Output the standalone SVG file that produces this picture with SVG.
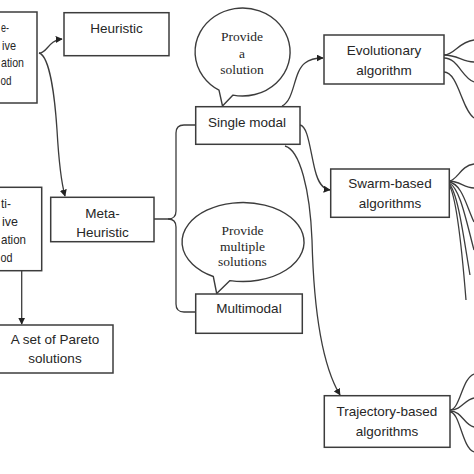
<svg xmlns="http://www.w3.org/2000/svg" width="474" height="474" viewBox="0 0 474 474">
<style>
.box{fill:#fff;stroke:#3c3c3c;stroke-width:1.5}
.t{font-family:"Liberation Sans",Arial,sans-serif;font-size:13.5px;fill:#262626;text-anchor:middle}
.f{font-family:"Liberation Sans",Arial,sans-serif;font-size:13.5px;fill:#262626;text-anchor:start}
.s{font-family:"Liberation Serif","Times New Roman",serif;font-size:13.5px;fill:#262626;text-anchor:middle}
.c{fill:none;stroke:#3c3c3c;stroke-width:1.3}
.bub{fill:#fff;stroke:#3c3c3c;stroke-width:1.4;stroke-linejoin:round}
</style>
<defs>
<marker id="ah" viewBox="0 0 10 10" refX="9" refY="5" markerWidth="7" markerHeight="7" orient="auto" markerUnits="userSpaceOnUse">
<path d="M0,0 L10,5 L0,10 Z" fill="#222"/>
</marker>
</defs>
<rect width="474" height="474" fill="#fff"/>
<g id="connectors">
<path class="c" d="M39,53 C47,54 48,40 62,39" marker-end="url(#ah)"/>
<path class="c" d="M39,53 C50,56 55,100 57,130 C59,165 62,185 65,196" marker-end="url(#ah)"/>
<path class="c" d="M21.7,271 L21.7,324" marker-end="url(#ah)"/>
<path class="c" d="M154,219 L168,219 Q176,219 176,211 L176,133 Q176,125 184,125 L196,125"/>
<path class="c" d="M168,219 Q176,219 176,227 L176,304 Q176,312 184,312 L196,312"/>
<path class="c" d="M282,106 C295,100 293,72 305,63 C311,58 318,58 323,58" marker-end="url(#ah)"/>
<path class="c" d="M300,125 C308,126 310,150 315,170 C318,182 322,189 330,190" marker-end="url(#ah)"/>
<path class="c" d="M285,146 C300,150 310,190 312,240 C314,320 325,370 340,395" marker-end="url(#ah)"/>
<path class="c" d="M444,55 C455,55 458,42 474,40"/>
<path class="c" d="M444,55 C458,55 462,62 474,62"/>
<path class="c" d="M444,58 C458,58 462,78 474,82"/>
<path class="c" d="M444,72 C458,72 462,110 474,118"/>
<path class="c" d="M449,181 C458,180 460,166 474,164"/>
<path class="c" d="M449,181 C460,181 464,188 474,188"/>
<path class="c" d="M449,182 C462,184 466,205 474,222"/>
<path class="c" d="M449,183 C460,188 466,220 474,250"/>
<path class="c" d="M449,184 C458,192 464,240 470,275"/>
<path class="c" d="M449,185 C456,195 462,250 466,300"/>
<path class="c" d="M450,410 C460,410 462,378 474,374"/>
<path class="c" d="M450,410 C462,410 464,400 474,398"/>
<path class="c" d="M450,411 C462,411 464,425 474,427"/>
<path class="c" d="M450,412 C460,412 462,448 474,452"/>
</g>
<g id="single-objective">
<rect class="box" x="-60" y="12" width="97" height="91"/>
<text class="f" x="1" y="32" textLength="8" lengthAdjust="spacingAndGlyphs">e-</text>
<text class="f" x="2" y="49.5" textLength="14" lengthAdjust="spacingAndGlyphs">ive</text>
<text class="f" x="1" y="67" textLength="23" lengthAdjust="spacingAndGlyphs">ation</text>
<text class="f" x="0.5" y="84.5" textLength="11" lengthAdjust="spacingAndGlyphs">od</text>
</g>
<g id="heuristic">
<rect class="box" x="64" y="12.7" width="105" height="43"/>
<text class="t" x="116.5" y="33">Heuristic</text>
</g>
<g id="multi-objective">
<rect class="box" x="-60" y="187.3" width="101.7" height="83.4"/>
<text class="f" x="1" y="207.5" textLength="10" lengthAdjust="spacingAndGlyphs">ti-</text>
<text class="f" x="2" y="226" textLength="16" lengthAdjust="spacingAndGlyphs">ive</text>
<text class="f" x="1" y="244" textLength="25" lengthAdjust="spacingAndGlyphs">ation</text>
<text class="f" x="0.5" y="262" textLength="12" lengthAdjust="spacingAndGlyphs">od</text>
</g>
<g id="meta-heuristic">
<rect class="box" x="50.7" y="197.3" width="103.3" height="44.4"/>
<text class="t" x="102.5" y="217.5">Meta-</text>
<text class="t" x="102.5" y="236.5">Heuristic</text>
</g>
<g id="pareto">
<rect class="box" x="-8" y="325" width="121" height="48"/>
<text class="t" x="55" y="344">A set of Pareto</text>
<text class="t" x="55" y="363">solutions</text>
</g>
<g id="bubble-single">
<path class="bub" d="M219,90.2 L222.5,106 L233,95.1 A47.5,44 0 1 0 219,90.2 Z"/>
<text class="s" x="242" y="41">Provide</text>
<text class="s" x="242" y="57.5">a</text>
<text class="s" x="242" y="74">solution</text>
</g>
<g id="single-modal">
<rect class="box" x="195.7" y="106.7" width="104.3" height="37.6"/>
<text class="t" x="247" y="126.5">Single modal</text>
</g>
<g id="bubble-multi">
<path class="bub" d="M213.3,276.5 L216.7,293.5 L230,280.6 A61,39.5 0 1 0 213.3,276.5 Z"/>
<text class="s" x="242.5" y="234.5">Provide</text>
<text class="s" x="242.5" y="250.5">multiple</text>
<text class="s" x="242.5" y="266">solutions</text>
</g>
<g id="multimodal">
<rect class="box" x="195.7" y="294" width="106.6" height="39.3"/>
<text class="t" x="249" y="313">Multimodal</text>
</g>
<g id="evolutionary">
<rect class="box" x="324" y="35" width="120" height="49"/>
<text class="t" x="384" y="55">Evolutionary</text>
<text class="t" x="384" y="75">algorithm</text>
</g>
<g id="swarm">
<rect class="box" x="330.7" y="169" width="118.6" height="48.3"/>
<text class="t" x="390" y="188">Swarm-based</text>
<text class="t" x="390" y="207.5">algorithms</text>
</g>
<g id="trajectory">
<rect class="box" x="324.3" y="395.7" width="125.7" height="51.6"/>
<text class="t" x="387" y="415.5">Trajectory-based</text>
<text class="t" x="387" y="435.5">algorithms</text>
</g>
</svg>
